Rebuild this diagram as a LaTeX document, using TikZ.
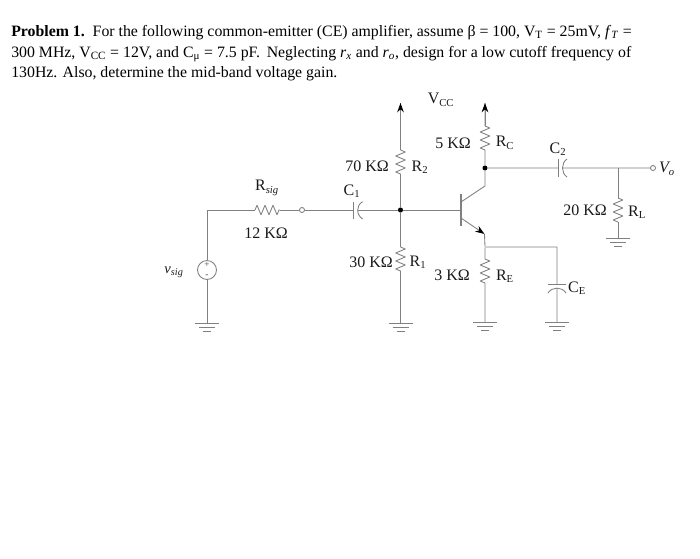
\documentclass[tikz,border=0pt]{standalone}
\usepackage{fontspec}
\setmainfont{Liberation Serif}
\usetikzlibrary{arrows.meta,decorations.pathmorphing}
\tikzset{
  wire/.style={draw=black!50,line width=0.65pt},
  res/.style={wire,decorate,decoration={zigzag,amplitude=3.6pt,segment length=6pt}},
  dot/.style={circle,fill=black,inner sep=0pt,minimum size=3.8pt},
  term/.style={circle,draw=black!50,fill=white,line width=0.65pt,inner sep=0pt,minimum size=3.8pt},
  lbl/.style={inner sep=0pt,text=black!90,font=\fontsize{12}{14}\selectfont},
  txt/.style={anchor=base west,inner sep=0pt,text=black,font=\fontsize{11.87}{14}\selectfont},
}
\newcommand{\sub}[1]{\textsubscript{#1}}
\begin{document}
\begin{tikzpicture}[x=0.75pt,y=-0.75pt,line join=round]
\useasboundingbox (0,0) rectangle (700,558);
% problem text
\node[txt] (line1) at (11,36) {\textbf{Problem 1.}\, For the following common-emitter (CE) amplifier, assume β = 100, V\sub{T} = 25mV, \textit{f}\sub{\textit{T}} =};
\node[txt] (line2) at (11,57) {300 MHz, V\sub{CC} = 12V, and C\sub{μ} = 7.5 pF.\, Neglecting \textit{r}\sub{\textit{x}} and \textit{r}\sub{\textit{o}}, design for a low cutoff frequency of};
\node[txt] (line3) at (11,77) {130Hz. Also, determine the mid-band voltage gain.};
% points of the circuit
\foreach \n/\x/\y in {srctop/207/210,rsa/255/210,rsb/280/210,cAa/353.3/210,cAb/357.5/210,
    rtwotop/400.5/150,rtwobot/400.5/176,vccA/400.5/103,roneA/400.5/247,roneB/400.5/272,gndB/400.5/323,
    basept/461/210,barA/461/194,barB/461/226,collA/461/202,collB/485/186,
    vccB/485/103,rcA/485/126,rcB/485/151,cBa/558.3/168,cBb/562.7/168,tap/618/168,
    rlA/618/198,rlB/618/222,gndL/618/238,emitA/461/218,emitB/484.5/234,
    reA/485/259,reB/485/284,gndE/485/322,corner/557/247,ceA/557/284,ceB/557/288,gndC/557/322,gndS/207/323}{
  \coordinate (\n) at (\x,\y);
}
\node[dot] (nodeB) at (400.5,210) {};
\node[dot] (nodeC) at (485,168) {};
\node[dot,fill=black!50,minimum size=0.65pt] (nodeE) at (485,247) {};
\node[term] (termin) at (302,210) {};
\node[term] (termout) at (653,168) {};
\node[circle,wire,inner sep=0pt,minimum size=14.2pt] (vsrc) at (207,270) {};
\node[inner sep=0pt,text=black!70,font=\fontsize{7}{7}\selectfont] (vplus) at (207,265) {+};
\node[inner sep=0pt,text=black!70,font=\fontsize{7}{7}\selectfont] (vminus) at (207,276.5) {-};
% wires
\draw[wire] (gndS) -- (vsrc) (vsrc) -- (srctop) -- (rsa) (rsb) -- (termin) (termin) -- (cAa) (cAb) -- (nodeB) (nodeB) -- (basept);
\draw[wire] (nodeB) -- (rtwobot) (rtwotop) -- (vccA);
\draw[wire] (nodeB) -- (roneA) (roneB) -- (gndB);
\draw[wire] (rcA) -- (vccB) (rcB) -- (nodeC) (nodeC) -- (collB) -- (collA) (nodeC) -- (cBa) (cBb) -- (termout);
\draw[wire] (tap) -- (rlA) (rlB) -- (gndL);
\draw[wire] (emitB) -- (nodeE) (nodeE) -- (reA) (reB) -- (gndE) (nodeE) -- (corner) -- (ceA) (ceB) -- (gndC);
\draw[wire,line width=0.9pt] (barA) -- (barB);
% supply and emitter arrows
\foreach \a/\b in {rtwotop/vccA,rcA/vccB,emitA/emitB}{\draw[wire,-{Stealth[length=7pt,width=5pt,black]}] (\a) -- (\b);}
% resistors
\foreach \a/\b in {rsa/rsb,rtwotop/rtwobot,roneA/roneB,rcA/rcB,rlA/rlB,reA/reB}{\draw[res] (\a) -- (\b);}
% capacitors
\draw[wire] (353.3,201.7) -- (353.3,219);
\draw[wire] (362.7,201.7) .. controls (356,205) and (356,215) .. (362.7,219);
\draw[wire] (558.3,159) -- (558.3,177);
\draw[wire] (567,159) .. controls (561,163) and (561,173) .. (567,177);
\draw[wire] (548,284) -- (566,284);
\draw[wire] (548,293) .. controls (552,286.5) and (562,286.5) .. (566,293);
% grounds
\foreach \n in {gndS,gndB,gndE,gndC,gndL}{
  \draw[wire] (\n)+(-12,0) -- +(12,0) +(-8,4) -- +(8,4) +(-4,8) -- +(4,8);
}
% labels
\foreach \n/\x/\y/\l in {lvcc/441/100/{V\sub{CC}},lrc/505/143/{R\sub{C}},lfivek/453/143/{5 KΩ},
    lctwo/558/149/{C\sub{2}},lrtwo/420/167/{R\sub{2}},lsevk/367/166/{70 KΩ},
    lrsig/267/188/{R\sub{\textit{sig}}},lcone/352/191/{C\sub{1}},ltwelve/266/233/{12 KΩ},
    lthirty/371/262/{30 KΩ},lrone/418/262/{R\sub{1}},lthree/452/275/{3 KΩ},lre/505/276/{R\sub{E}},
    lce/577/288/{C\sub{E}},ltwenty/585/210/{20 KΩ},lrl/637/212/{R\sub{L}}}{
  \node[lbl] (\n) at (\x,\y) {\l};
}
\node[lbl] (lvo) at (667,169) {\textit{V\sub{o}}};
\node[lbl,font=\fontsize{11}{13}\selectfont] (lvsig) at (174,272) {\textit{v\sub{sig}}};
\end{tikzpicture}
\end{document}
